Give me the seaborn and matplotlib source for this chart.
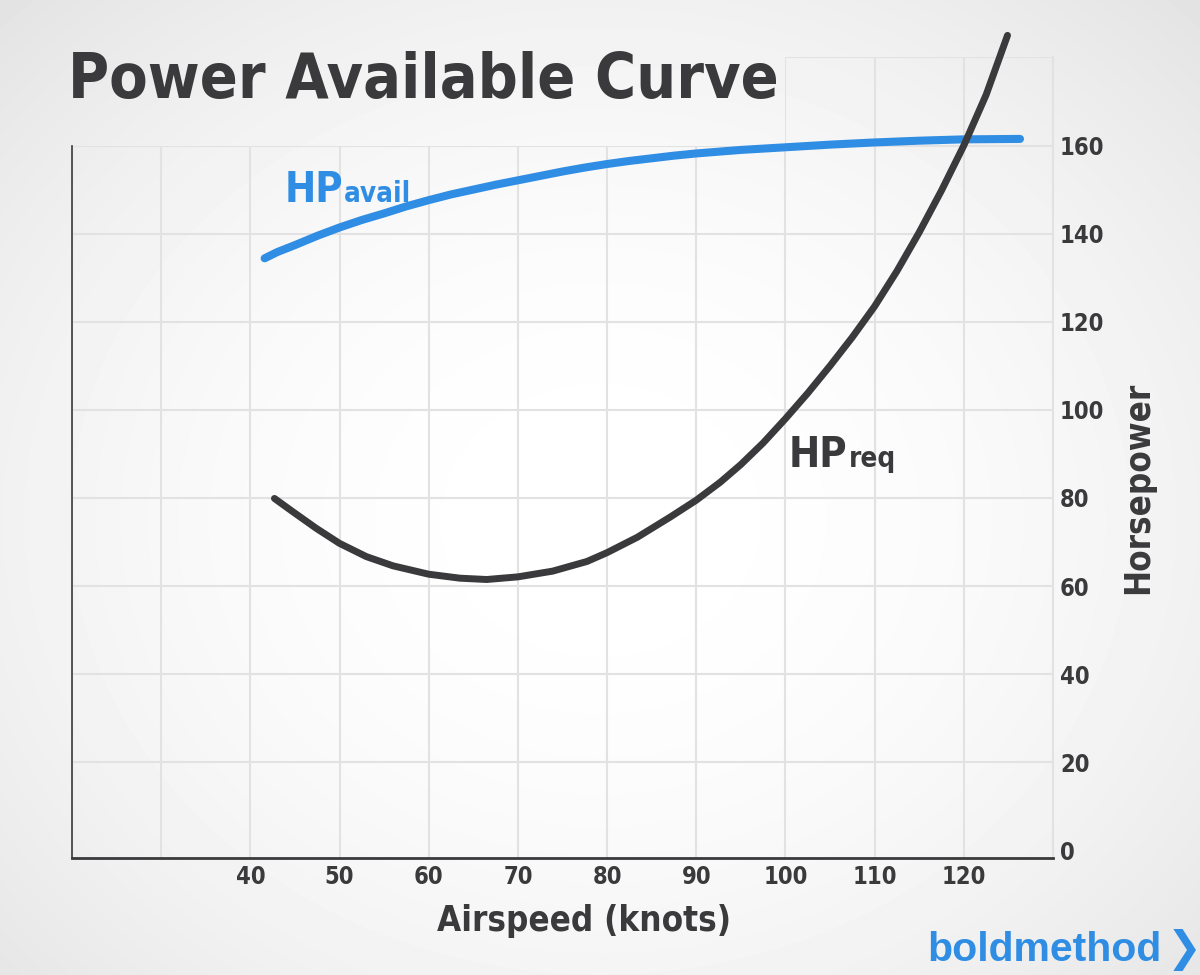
import numpy as np
import pandas as pd
import matplotlib
matplotlib.use("Agg")
import matplotlib.pyplot as plt
import seaborn as sns
from matplotlib import font_manager as fm
from matplotlib.patches import Polygon

# ---------------- data ----------------
airspeed_avail = [41.6, 43, 45, 47.5, 50, 52.5, 55, 57.5, 60, 62.5, 65, 67.5, 70, 72.5, 75, 77.5,
                  80, 82.5, 85, 87.5, 90, 92.5, 95, 97.5, 100, 105, 110, 115, 120, 126.3]
hp_avail = [134.4, 135.8, 137.4, 139.5, 141.4, 143.1, 144.6, 146.2, 147.6, 148.9, 150.0, 151.1,
            152.1, 153.1, 154.1, 155.0, 155.8, 156.5, 157.1, 157.7, 158.2, 158.6, 159.0, 159.3,
            159.6, 160.2, 160.7, 161.1, 161.4, 161.5]

airspeed_req = [42.7, 44.75, 47.4, 50, 53, 56, 60, 63.5, 66.5, 70, 73.9, 77.75, 80, 83.4, 87.1,
                90, 92.7, 95, 97.5, 100, 102.5, 105, 107.5, 110, 112.5, 115, 117.5, 120, 122.5, 124.9]
hp_req = [79.9, 76.9, 73.1, 69.7, 66.7, 64.6, 62.7, 61.8, 61.5, 62.1, 63.4, 65.6, 67.6, 71.1, 75.7,
          79.5, 83.6, 87.6, 92.5, 98.0, 103.8, 110.0, 116.5, 123.5, 131.5, 140.3, 149.8, 160.0,
          171.5, 185.0]

x_ticks = [20, 30, 40, 50, 60, 70, 80, 90, 100, 110, 120, 130]
x_tick_labels = ["", "", "40", "50", "60", "70", "80", "90", "100", "110", "120", ""]
y_ticks = [0, 20, 40, 60, 80, 100, 120, 140, 160, 180]
y_tick_labels = ["0", "20", "40", "60", "80", "100", "120", "140", "160", ""]

title = "Power Available Curve"
x_label = "Airspeed (knots)"
y_label = "Horsepower"

df_avail = pd.DataFrame({"airspeed": airspeed_avail, "hp": hp_avail})
df_req = pd.DataFrame({"airspeed": airspeed_req, "hp": hp_req})

# ---------------- style ----------------
sns.set_theme(style="white")
names = {f.name for f in fm.fontManager.ttflist}
WIDE = "Liberation Sans" if "Liberation Sans" in names else "DejaVu Sans"
plt.rcParams["font.family"] = ["DejaVu Sans"]
plt.rcParams["font.weight"] = "bold"
plt.rcParams["font.stretch"] = "condensed"

DARK = "#3a3a3c"
BLUE = "#2f8de4"
GRID = "#e2e2e2"

W, H = 1200, 975
fig = plt.figure(figsize=(W / 100, H / 100), dpi=100)

# background vignette
bg = fig.add_axes([0, 0, 1, 1], zorder=-10)
yy, xx = np.mgrid[0:H, 0:W]
r = np.sqrt(((xx - 600) / 700.0) ** 2 + ((yy - 520) / 600.0) ** 2)
val = 1 - 0.075 * np.clip(r, 0, 1.3) ** 2
bg.imshow(val, cmap="gray", vmin=0, vmax=1, extent=[0, 1, 0, 1], aspect="auto", origin="upper")
bg.set_axis_off()

# main axes
L, R, B, T = 72, 1053, 858.4, 57.4
ax = fig.add_axes([L / W, 1 - B / H, (R - L) / W, (B - T) / H])
ax.patch.set_alpha(0)

sns.lineplot(data=df_avail, x="airspeed", y="hp", ax=ax, color=BLUE, lw=5.8,
             solid_capstyle="round", solid_joinstyle="round", sort=False, estimator=None, zorder=3)
sns.lineplot(data=df_req, x="airspeed", y="hp", ax=ax, color=DARK, lw=5.0,
             solid_capstyle="round", solid_joinstyle="round", sort=False, estimator=None,
             zorder=4, clip_on=False)

ax.set_xlim(20, 130)
ax.set_ylim(-1.8, 180)
ax.set_xticks(x_ticks, x_tick_labels)
ax.set_yticks(y_ticks, y_tick_labels)
ax.yaxis.tick_right()
ax.tick_params(axis="both", length=0, labelsize=17, labelcolor=DARK)
ax.tick_params(axis="x", pad=4.5)
ax.tick_params(axis="y", pad=5)

ax.grid(True, color=GRID, lw=1.5)
ax.set_axisbelow(True)
clip_poly = Polygon([(20, -1.8), (130, -1.8), (130, 180), (100, 180), (100, 160), (20, 160)],
                    closed=True, transform=ax.transData, facecolor="none", edgecolor="none")
for gl in ax.get_xgridlines() + ax.get_ygridlines():
    gl.set_clip_path(clip_poly)
ax.get_ygridlines()[0].set_visible(False)

ax.spines["top"].set_visible(False)
ax.spines["left"].set_color(DARK)
ax.spines["left"].set_linewidth(1.2)
ax.spines["left"].set_bounds(-1.8, 160)
ax.spines["bottom"].set_color(DARK)
ax.spines["bottom"].set_linewidth(2.0)
ax.spines["right"].set_color(GRID)
ax.spines["right"].set_linewidth(1.5)

ax.set_xlabel(x_label, fontsize=25, color=DARK, fontweight="bold")
ax.xaxis.set_label_coords((584 - L) / (R - L), (B - 904) / (B - T))
ax.set_ylabel(y_label, fontsize=25, color=DARK, fontweight="bold")
ax.yaxis.set_label_position("right")
ax.yaxis.set_label_coords((1138 - L) / (R - L), (B - 487.5) / (B - T))
ax.yaxis.label.set_va("center")
ax.yaxis.label.set_ha("center")
ax.yaxis.label.set_rotation(90)

# title
fig.text(68 / W, 1 - 98 / H, title, fontsize=45, color=DARK, ha="left", va="baseline")

# curve labels (big "HP" + smaller suffix on the same baseline)
hp1 = ax.text(43.8, 147.2, "HP", fontsize=30, color=BLUE, ha="left", va="baseline")
hp2 = ax.text(100.4, 87.0, "HP", fontsize=30, color=DARK, ha="left", va="baseline")
fig.canvas.draw()
inv = ax.transData.inverted()
x1 = inv.transform((hp1.get_window_extent().x1 + 1, 0))[0]
x2 = inv.transform((hp2.get_window_extent().x1 + 1, 0))[0]
ax.text(x1, 147.2, "avail", fontsize=20, color=BLUE, ha="left", va="baseline")
ax.text(x2, 87.0, "req", fontsize=20, color=DARK, ha="left", va="baseline")

# logo
fig.text(927 / W, 1 - 961 / H, "boldmethod", fontsize=29.5, color=BLUE, ha="left", va="baseline",
         family=[WIDE, "DejaVu Sans"], fontstretch="normal")
fig.text(1167 / W, 1 - 961 / H, "\u276F", fontsize=30, color=BLUE, ha="left", va="baseline",
         family=["DejaVu Sans"], fontstretch="normal")

fig.savefig("out.png", dpi=100)
